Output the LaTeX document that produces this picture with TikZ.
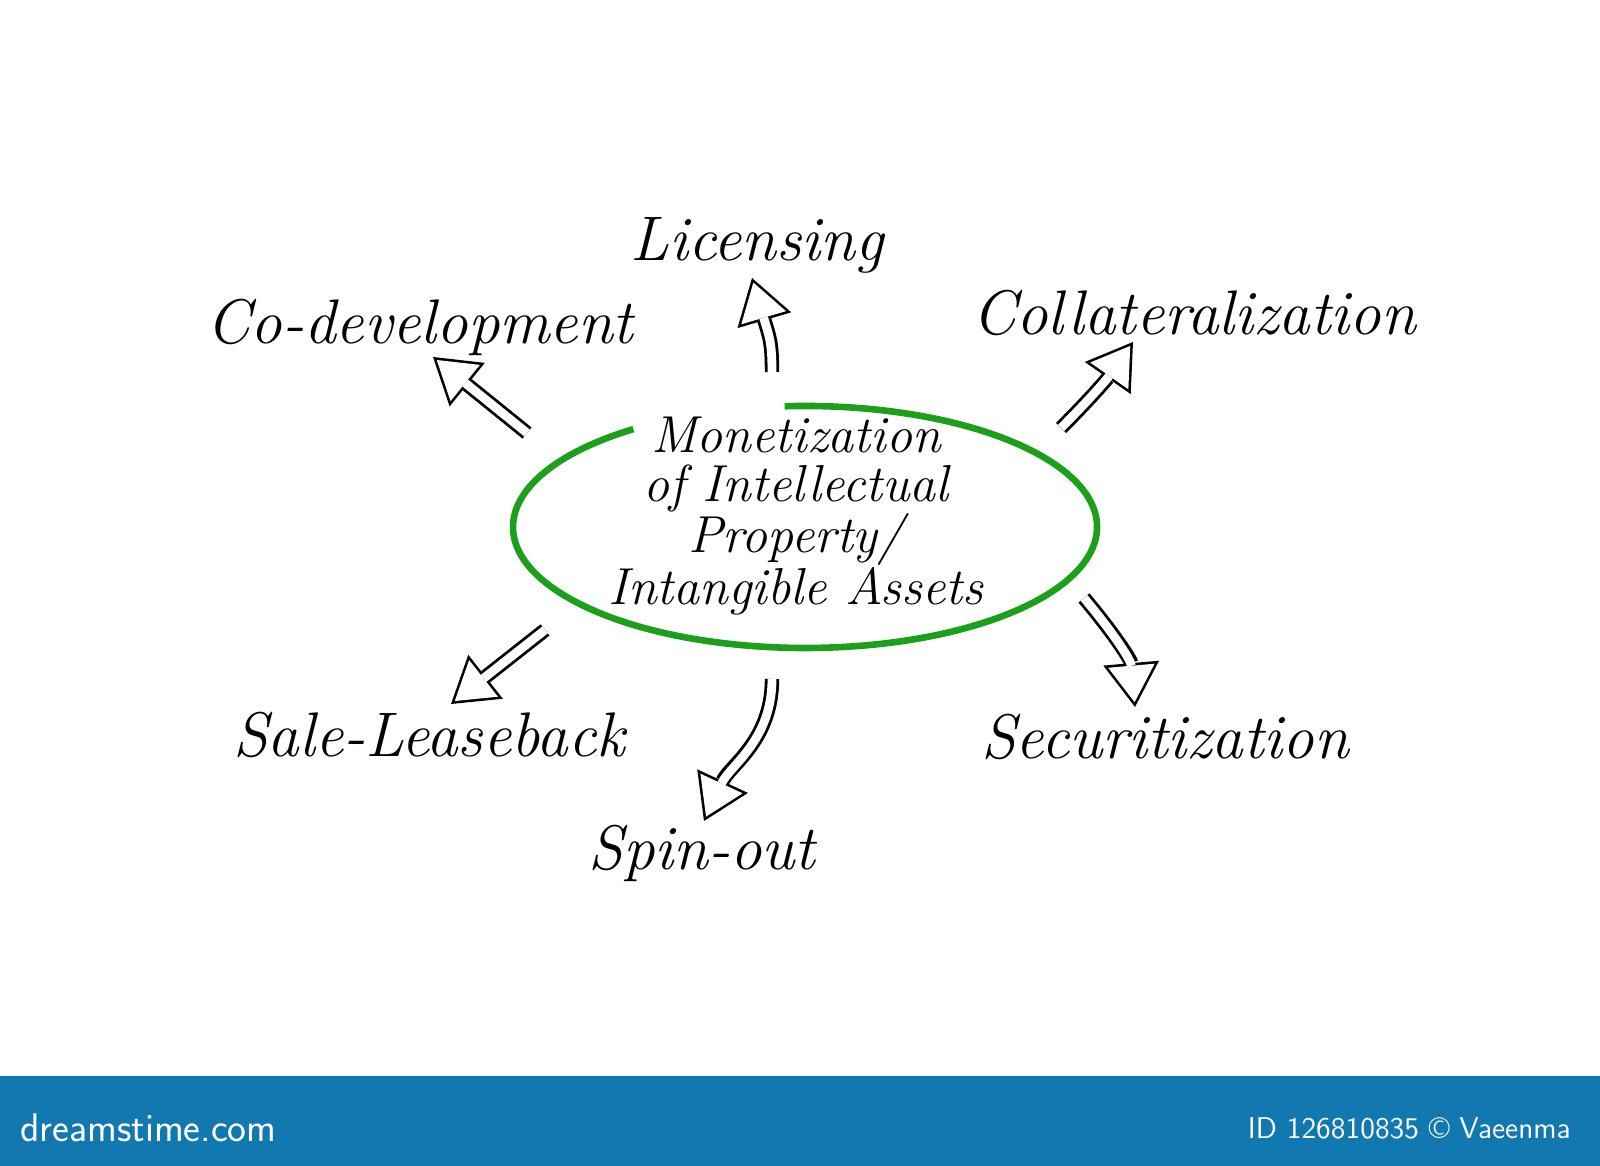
\documentclass[tikz,border=0pt]{standalone}
\usepackage{tikz}
\usetikzlibrary{arrows.meta}
\definecolor{ring_green}{RGB}{28,160,28}
\definecolor{banner_blue}{RGB}{17,120,176}

\begin{document}
\begin{tikzpicture}[x=0.5pt,y=0.5pt,
	label_node/.style={font=\fontsize{31.5}{36}\selectfont\itshape,inner sep=0pt},
	core_node/.style={font=\fontsize{26}{24.5}\selectfont\itshape,align=center,inner sep=0pt},
	banner_node/.style={font=\fontsize{15}{18}\selectfont\sffamily,text=white,inner sep=0pt},
	hollow_arrow/.style={draw=white,line width=4.4pt,shorten >=2.4pt,-{Triangle[length=18.3pt,width=23.3pt,line width=0pt,round]},
		preaction={draw=black,line width=7.2pt,shorten >=0pt,-{Triangle[length=22pt,width=28pt,line width=0pt,round]}}},
	ring/.style={draw=ring_green,line width=3.3pt}]
	\useasboundingbox (0,0) rectangle (1600,1166);
	\fill[banner_blue] (0,0) rectangle (1600,90);

	\node[core_node] (mip) at (796,650) {Monetization\\of Intellectual\\Property/\\Intangible Assets};
	\draw[ring] (633.4,736.9) arc[start angle=126,end angle=454,x radius=146pt,y radius=60.5pt];

	\node[label_node] (licensing) at (757,921) {Licensing};
	\node[label_node] (codev) at (420,839) {Co-development};
	\node[label_node] (collat) at (1194,853) {Collateralization};
	\node[label_node] (saleback) at (429,431) {Sale-Leaseback};
	\node[label_node] (secur) at (1165,429) {Securitization};
	\node[label_node] (spinout) at (702,313) {Spin-out};

	\coordinate (licensing_s) at (772,794);
	\coordinate (licensing_e) at (752,888);
	\coordinate (codev_s) at (527,733);
	\coordinate (codev_e) at (433,809);
	\coordinate (collat_s) at (1061,738);
	\coordinate (collat_e) at (1133,824);
	\coordinate (saleback_s) at (545,536);
	\coordinate (saleback_e) at (451,462);
	\coordinate (spinout_s) at (772,487);
	\coordinate (spinout_e) at (704,345);
	\coordinate (secur_s) at (1084,568);
	\coordinate (secur_e) at (1135,459);

	\draw[hollow_arrow] (licensing_s) .. controls (772,825) and (769,830) .. (licensing_e);
	\draw[hollow_arrow] (codev_s) -- (codev_e);
	\draw[hollow_arrow] (collat_s) to[out=45,in=-125] (collat_e);
	\draw[hollow_arrow] (saleback_s) -- (saleback_e);
	\draw[hollow_arrow] (spinout_s) to[out=-90,in=65] (spinout_e);
	\draw[hollow_arrow] (secur_s) to[out=-50,in=95] (secur_e);

	\node[banner_node,font=\fontsize{20}{22}\selectfont\sffamily,anchor=west] (site) at (20,38) {dreamstime.com};
	\node[banner_node,anchor=east] (stock_id) at (1571,38) {ID 126810835 \textcopyright{} Vaeenma};
\end{tikzpicture}
\end{document}
